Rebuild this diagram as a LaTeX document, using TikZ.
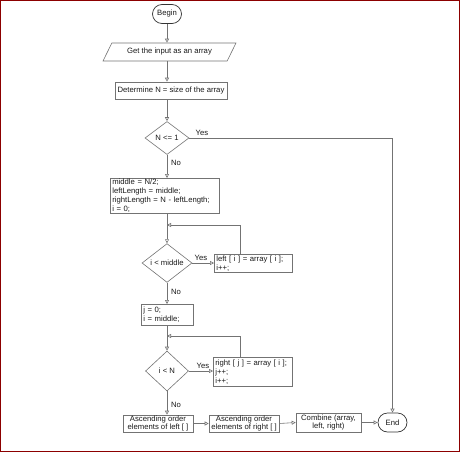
\documentclass[tikz,border=0pt]{standalone}
\usepackage{fontspec}
\setmainfont{Liberation Sans}
\usetikzlibrary{shapes.geometric,shapes.misc,arrows.meta}
\begin{document}
\begin{tikzpicture}[x=1pt,y=-1pt,
 every node/.style={font=\fontsize{7.7}{8.9}\selectfont, text=black!90, inner sep=1pt},
 ln/.style={draw=black!55, line width=0.6pt},
 arr/.style={ln, -{Triangle[open,length=4pt,width=4pt]}},
 term/.style={draw=black!80, rounded rectangle, minimum width=31pt, minimum height=19pt, line width=0.7pt},
 box/.style={draw=black!55, rectangle, line width=0.6pt, align=left, inner xsep=2pt, inner ysep=0.3pt},
 cbox/.style={draw=black!55, rectangle, line width=0.6pt, align=center, inner sep=0pt},
 dec/.style={draw=black!55, diamond, line width=0.6pt, inner sep=0pt},
 lab/.style={inner sep=0pt}
]
\useasboundingbox (0,0) rectangle (460,452);
\draw[draw=red!55!black, line width=1.2pt] (0.6,0.6) rectangle (459.4,451.4);

\node[term] (begin) at (167,14) {Begin};
\node[draw=black!55, line width=0.6pt, trapezium, trapezium left angle=39, trapezium right angle=141,
      trapezium stretches body, minimum width=133pt, minimum height=18pt, inner sep=0pt] (input) at (169.5,52) {Get the input as an array};
\node[cbox, minimum width=112pt, minimum height=17pt] (size) at (171,90.5) {Determine N = size of the array};
\node[dec, minimum width=44pt, minimum height=33pt] (d1) at (167,138) {N <= 1};
\node[box, anchor=north west, text width=105pt, minimum height=35pt] (init) at (110,178) {middle = N/2;\\leftLength = middle;\\rightLength = N - leftLength;\\i = 0;};
\node[dec, minimum width=50pt, minimum height=38pt] (d2) at (167,263) {i < middle};
\node[box, anchor=north west, text width=74pt, minimum height=18pt] (lb) at (214,254) {left [ i ] = array [ i ];\\i++;};
\node[box, anchor=north west, text width=48pt, minimum height=21pt] (jb) at (141,304) {j = 0;\\i = middle;};
\node[dec, minimum width=43pt, minimum height=40pt] (d3) at (167,371) {i < N};
\node[box, anchor=north west, text width=75pt, minimum height=29pt] (rb) at (213,357) {right [ j ] = array [ i ];\\j++;\\i++;};
\node[cbox, minimum width=70pt, minimum height=17pt] (a1) at (158,423.5) {Ascending order\\elements of left [ ]};
\node[cbox, minimum width=70pt, minimum height=17pt] (a2) at (244,423.5) {Ascending order\\elements of right [ ]};
\node[cbox, minimum width=65pt, minimum height=19pt] (cb) at (328.5,422.5) {Combine (array,\\left, right)};
\node[term] (end) at (392.5,422.5) {End};

\coordinate (j1) at (167,225);
\coordinate (j2) at (167,336);

\draw[arr] (begin.south) -- (begin |- input.north);
\draw[arr] (input.south -| begin) -- (begin |- size.north);
\draw[arr] (size.south -| d1) -- (d1.north);
\draw[arr] (d1.east) -- (d1.east -| end) -- (end.north);
\draw[arr] (d1.south) -- (d1 |- init.north);
\draw[arr] (init.south -| d2) -- (d2.north);
\draw[arr] ([xshift=26pt]lb.north west) -- ([xshift=26pt]lb.north west |- j1) -- (j1);
\draw[arr] (d2.east) -- (d2.east -| lb.west);
\draw[arr] (d2.south) -- (d2 |- jb.north);
\draw[arr] (jb.south -| d3) -- (d3.north);
\draw[arr] ([xshift=27pt]rb.north west) -- ([xshift=27pt]rb.north west |- j2) -- (j2);
\draw[arr] (d3.east) -- (d3.east -| rb.west);
\draw[arr] (d3.south) -- (d3 |- a1.north);
\draw[arr] (a1.east) -- (a2.west);
\draw[arr] (a2.east) -- (cb.west);
\draw[arr] (cb.east) -- (end.west);

\node[lab] (y1) at (202,133) {Yes};
\node[lab] (n1) at (176,163) {No};
\node[lab] (y2) at (201,257.5) {Yes};
\node[lab] (n2) at (176,292) {No};
\node[lab] (y3) at (203,366) {Yes};
\node[lab] (n3) at (176,405) {No};
\end{tikzpicture}
\end{document}
